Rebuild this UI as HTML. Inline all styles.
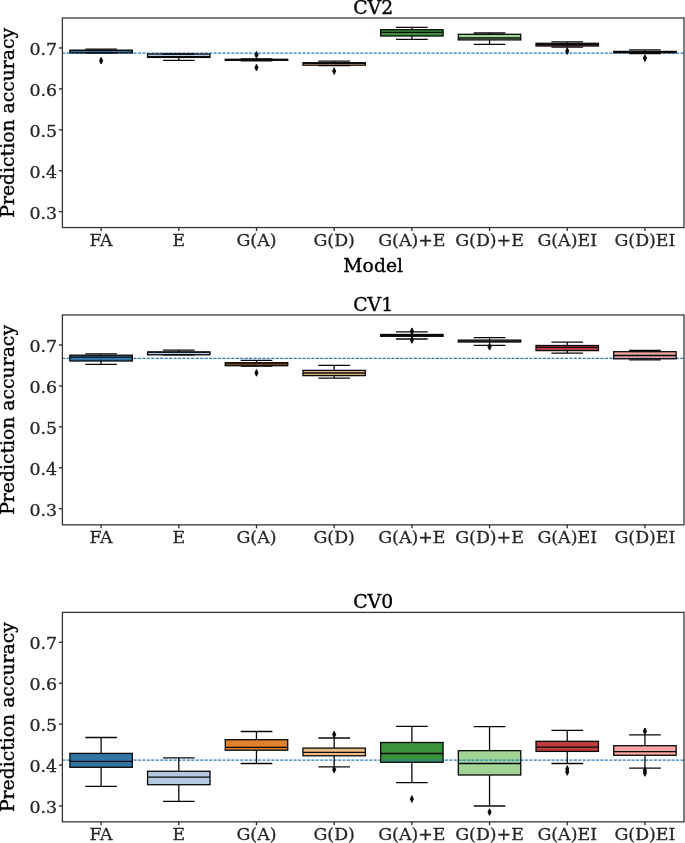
<!DOCTYPE html>
<html lang="en"><head><meta charset="utf-8"><title>Prediction accuracy by model</title>
<style>html,body{margin:0;padding:0;background:#fff}svg{display:block}text{stroke:#262626;stroke-width:.3px}text.k{fill:#000;stroke:#000;stroke-width:.35px}</style></head>
<body>
<svg width="685" height="843" viewBox="0 0 685 843" font-family="'DejaVu Serif', 'Liberation Serif', serif" fill="#262626">
<rect width="685" height="843" fill="#fff"/>
<g class="ax0">
<rect x="69.88" y="50.30" width="62.45" height="2.60" fill="#3274a1"/>
<rect x="147.56" y="54.00" width="62.45" height="3.40" fill="#b5c8e1"/>
<rect x="225.26" y="59.30" width="62.45" height="1.00" fill="#e1812c"/>
<rect x="302.94" y="62.70" width="62.45" height="2.50" fill="#eebb89"/>
<rect x="380.63" y="29.70" width="62.45" height="6.30" fill="#3a923a"/>
<rect x="458.32" y="34.30" width="62.45" height="5.60" fill="#9fd495"/>
<rect x="536.01" y="43.30" width="62.45" height="2.70" fill="#c03d3e"/>
<rect x="613.70" y="51.40" width="62.45" height="1.30" fill="#f2a5a3"/>
<path d="M62.3 53.05H684.0" stroke="#2a7fc0" stroke-width="1.2" stroke-dasharray="3.15 1.297" fill="none"/>
<g stroke="#0a0a0a" stroke-width="1.3" fill="none">
<path d="M101.10 50.30V49.20M101.10 52.90V52.90M85.25 49.20H116.95M85.25 52.90H116.95"/>
<rect x="69.88" y="50.30" width="62.45" height="2.60"/>
<path d="M69.88 50.30H132.32"/>
</g>
<path d="M101.10 57.40L102.65 60.70L101.10 64.00L99.55 60.70Z" fill="#0a0a0a" stroke="#0a0a0a" stroke-width="1" stroke-linejoin="miter"/>
<g stroke="#0a0a0a" stroke-width="1.3" fill="none">
<path d="M178.79 54.00V54.00M178.79 57.40V60.30M162.94 54.00H194.64M162.94 60.30H194.64"/>
<rect x="147.56" y="54.00" width="62.45" height="3.40"/>
<path d="M147.56 56.60H210.01"/>
</g>
<g stroke="#0a0a0a" stroke-width="1.3" fill="none">
<path d="M256.48 59.30V58.90M256.48 60.30V60.80M240.63 58.90H272.33M240.63 60.80H272.33"/>
<rect x="225.26" y="59.30" width="62.45" height="1.00"/>
<path d="M225.26 59.80H287.71"/>
</g>
<path d="M256.48 51.50L258.03 54.80L256.48 58.10L254.93 54.80Z" fill="#0a0a0a" stroke="#0a0a0a" stroke-width="1" stroke-linejoin="miter"/>
<path d="M256.48 64.30L258.03 67.60L256.48 70.90L254.93 67.60Z" fill="#0a0a0a" stroke="#0a0a0a" stroke-width="1" stroke-linejoin="miter"/>
<g stroke="#0a0a0a" stroke-width="1.3" fill="none">
<path d="M334.17 62.70V61.20M334.17 65.20V65.60M318.32 61.20H350.02M318.32 65.60H350.02"/>
<rect x="302.94" y="62.70" width="62.45" height="2.50"/>
<path d="M302.94 63.30H365.39"/>
</g>
<path d="M334.17 67.80L335.72 71.10L334.17 74.40L332.62 71.10Z" fill="#0a0a0a" stroke="#0a0a0a" stroke-width="1" stroke-linejoin="miter"/>
<g stroke="#0a0a0a" stroke-width="1.3" fill="none">
<path d="M411.86 29.70V27.40M411.86 36.00V39.40M396.01 27.40H427.71M396.01 39.40H427.71"/>
<rect x="380.63" y="29.70" width="62.45" height="6.30"/>
<path d="M380.63 32.40H443.09"/>
</g>
<g stroke="#0a0a0a" stroke-width="1.3" fill="none">
<path d="M489.55 34.30V33.00M489.55 39.90V44.30M473.70 33.00H505.40M473.70 44.30H505.40"/>
<rect x="458.32" y="34.30" width="62.45" height="5.60"/>
<path d="M458.32 38.00H520.77"/>
</g>
<g stroke="#0a0a0a" stroke-width="1.3" fill="none">
<path d="M567.24 43.30V41.90M567.24 46.00V47.20M551.39 41.90H583.09M551.39 47.20H583.09"/>
<rect x="536.01" y="43.30" width="62.45" height="2.70"/>
<path d="M536.01 44.60H598.47"/>
</g>
<path d="M567.24 47.80L568.79 51.10L567.24 54.40L565.69 51.10Z" fill="#0a0a0a" stroke="#0a0a0a" stroke-width="1" stroke-linejoin="miter"/>
<g stroke="#0a0a0a" stroke-width="1.3" fill="none">
<path d="M644.93 51.40V49.80M644.93 52.70V53.60M629.08 49.80H660.78M629.08 53.60H660.78"/>
<rect x="613.70" y="51.40" width="62.45" height="1.30"/>
<path d="M613.70 52.00H676.15"/>
</g>
<path d="M644.93 54.80L646.48 58.10L644.93 61.40L643.38 58.10Z" fill="#0a0a0a" stroke="#0a0a0a" stroke-width="1" stroke-linejoin="miter"/>
<rect x="62.4" y="18.0" width="621.60" height="209.55" fill="none" stroke="#303030" stroke-width="1.25"/>
<path d="M62.4 47.97h-3.5" stroke="#2a2a2a" stroke-width="1.3"/>
<text transform="translate(57.10 55.17) scale(1 1.0)" font-size="17.4" text-anchor="end">0.7</text>
<path d="M62.4 88.90h-3.5" stroke="#2a2a2a" stroke-width="1.3"/>
<text transform="translate(57.10 96.10) scale(1 1.0)" font-size="17.4" text-anchor="end">0.6</text>
<path d="M62.4 129.83h-3.5" stroke="#2a2a2a" stroke-width="1.3"/>
<text transform="translate(57.10 137.03) scale(1 1.0)" font-size="17.4" text-anchor="end">0.5</text>
<path d="M62.4 170.76h-3.5" stroke="#2a2a2a" stroke-width="1.3"/>
<text transform="translate(57.10 177.96) scale(1 1.0)" font-size="17.4" text-anchor="end">0.4</text>
<path d="M62.4 211.69h-3.5" stroke="#2a2a2a" stroke-width="1.3"/>
<text transform="translate(57.10 218.89) scale(1 1.0)" font-size="17.4" text-anchor="end">0.3</text>
<path d="M101.10 227.55v3.5" stroke="#2a2a2a" stroke-width="1.3"/>
<text transform="translate(101.10 246.10) scale(1 0.96)" font-size="17.4" text-anchor="middle">FA</text>
<path d="M178.79 227.55v3.5" stroke="#2a2a2a" stroke-width="1.3"/>
<text transform="translate(178.79 246.10) scale(1 0.96)" font-size="17.4" text-anchor="middle">E</text>
<path d="M256.48 227.55v3.5" stroke="#2a2a2a" stroke-width="1.3"/>
<text transform="translate(256.48 246.10) scale(1 0.96)" font-size="17.4" text-anchor="middle">G(A)</text>
<path d="M334.17 227.55v3.5" stroke="#2a2a2a" stroke-width="1.3"/>
<text transform="translate(334.17 246.10) scale(1 0.96)" font-size="17.4" text-anchor="middle">G(D)</text>
<path d="M411.86 227.55v3.5" stroke="#2a2a2a" stroke-width="1.3"/>
<text transform="translate(411.86 246.10) scale(1 0.96)" font-size="17.4" text-anchor="middle">G(A)+E</text>
<path d="M489.55 227.55v3.5" stroke="#2a2a2a" stroke-width="1.3"/>
<text transform="translate(489.55 246.10) scale(1 0.96)" font-size="17.4" text-anchor="middle">G(D)+E</text>
<path d="M567.24 227.55v3.5" stroke="#2a2a2a" stroke-width="1.3"/>
<text transform="translate(567.24 246.10) scale(1 0.96)" font-size="17.4" text-anchor="middle">G(A)EI</text>
<path d="M644.93 227.55v3.5" stroke="#2a2a2a" stroke-width="1.3"/>
<text transform="translate(644.93 246.10) scale(1 0.96)" font-size="17.4" text-anchor="middle">G(D)EI</text>
<text class="k" x="373.20" y="13.90" font-size="18.8" text-anchor="middle">CV2</text>
<text class="k" transform="translate(14.3 122.78) rotate(-90) scale(1 1.01)" font-size="18.8" text-anchor="middle">Prediction accuracy</text>
<text class="k" transform="translate(373.20 272.3) scale(1 1.035)" font-size="18.8" text-anchor="middle">Model</text>
</g>
<g class="ax1">
<rect x="69.88" y="355.20" width="62.45" height="5.80" fill="#3274a1"/>
<rect x="147.56" y="352.00" width="62.45" height="2.80" fill="#b5c8e1"/>
<rect x="225.26" y="362.70" width="62.45" height="3.00" fill="#e1812c"/>
<rect x="302.94" y="370.40" width="62.45" height="5.20" fill="#eebb89"/>
<rect x="380.63" y="334.50" width="62.45" height="1.80" fill="#3a923a"/>
<rect x="458.32" y="340.10" width="62.45" height="1.90" fill="#9fd495"/>
<rect x="536.01" y="345.50" width="62.45" height="5.10" fill="#c03d3e"/>
<rect x="613.70" y="351.70" width="62.45" height="7.10" fill="#f2a5a3"/>
<path d="M62.3 358.3H684.0" stroke="#2a7fc0" stroke-width="1.2" stroke-dasharray="3.15 1.297" fill="none"/>
<g stroke="#0a0a0a" stroke-width="1.3" fill="none">
<path d="M101.10 355.20V353.80M101.10 361.00V364.30M85.25 353.80H116.95M85.25 364.30H116.95"/>
<rect x="69.88" y="355.20" width="62.45" height="5.80"/>
<path d="M69.88 357.20H132.32"/>
</g>
<g stroke="#0a0a0a" stroke-width="1.3" fill="none">
<path d="M178.79 352.00V350.10M178.79 354.80V354.90M162.94 350.10H194.64M162.94 354.90H194.64"/>
<rect x="147.56" y="352.00" width="62.45" height="2.80"/>
<path d="M147.56 352.10H210.01"/>
</g>
<g stroke="#0a0a0a" stroke-width="1.3" fill="none">
<path d="M256.48 362.70V360.40M256.48 365.70V366.20M240.63 360.40H272.33M240.63 366.20H272.33"/>
<rect x="225.26" y="362.70" width="62.45" height="3.00"/>
<path d="M225.26 363.95H287.71"/>
</g>
<path d="M256.48 369.60L258.03 372.90L256.48 376.20L254.93 372.90Z" fill="#0a0a0a" stroke="#0a0a0a" stroke-width="1" stroke-linejoin="miter"/>
<g stroke="#0a0a0a" stroke-width="1.3" fill="none">
<path d="M334.17 370.40V365.30M334.17 375.60V378.10M318.32 365.30H350.02M318.32 378.10H350.02"/>
<rect x="302.94" y="370.40" width="62.45" height="5.20"/>
<path d="M302.94 373.00H365.39"/>
</g>
<g stroke="#0a0a0a" stroke-width="1.3" fill="none">
<path d="M411.86 334.50V331.90M411.86 336.30V339.00M396.01 331.90H427.71M396.01 339.00H427.71"/>
<rect x="380.63" y="334.50" width="62.45" height="1.80"/>
<path d="M380.63 335.40H443.09"/>
</g>
<path d="M411.86 327.90L413.41 331.20L411.86 334.50L410.31 331.20Z" fill="#0a0a0a" stroke="#0a0a0a" stroke-width="1" stroke-linejoin="miter"/>
<path d="M411.86 336.70L413.41 340.00L411.86 343.30L410.31 340.00Z" fill="#0a0a0a" stroke="#0a0a0a" stroke-width="1" stroke-linejoin="miter"/>
<g stroke="#0a0a0a" stroke-width="1.3" fill="none">
<path d="M489.55 340.10V337.60M489.55 342.00V345.30M473.70 337.60H505.40M473.70 345.30H505.40"/>
<rect x="458.32" y="340.10" width="62.45" height="1.90"/>
<path d="M458.32 341.05H520.77"/>
</g>
<path d="M489.55 343.50L491.10 346.80L489.55 350.10L488.00 346.80Z" fill="#0a0a0a" stroke="#0a0a0a" stroke-width="1" stroke-linejoin="miter"/>
<g stroke="#0a0a0a" stroke-width="1.3" fill="none">
<path d="M567.24 345.50V342.20M567.24 350.60V353.20M551.39 342.20H583.09M551.39 353.20H583.09"/>
<rect x="536.01" y="345.50" width="62.45" height="5.10"/>
<path d="M536.01 347.40H598.47"/>
</g>
<g stroke="#0a0a0a" stroke-width="1.3" fill="none">
<path d="M644.93 351.70V350.50M644.93 358.80V359.80M629.08 350.50H660.78M629.08 359.80H660.78"/>
<rect x="613.70" y="351.70" width="62.45" height="7.10"/>
<path d="M613.70 355.50H676.15"/>
</g>
<rect x="62.4" y="315.0" width="621.60" height="209.85" fill="none" stroke="#303030" stroke-width="1.25"/>
<path d="M62.4 344.97h-3.5" stroke="#2a2a2a" stroke-width="1.3"/>
<text transform="translate(57.10 352.17) scale(1 1.0)" font-size="17.4" text-anchor="end">0.7</text>
<path d="M62.4 385.90h-3.5" stroke="#2a2a2a" stroke-width="1.3"/>
<text transform="translate(57.10 393.10) scale(1 1.0)" font-size="17.4" text-anchor="end">0.6</text>
<path d="M62.4 426.83h-3.5" stroke="#2a2a2a" stroke-width="1.3"/>
<text transform="translate(57.10 434.03) scale(1 1.0)" font-size="17.4" text-anchor="end">0.5</text>
<path d="M62.4 467.76h-3.5" stroke="#2a2a2a" stroke-width="1.3"/>
<text transform="translate(57.10 474.96) scale(1 1.0)" font-size="17.4" text-anchor="end">0.4</text>
<path d="M62.4 508.69h-3.5" stroke="#2a2a2a" stroke-width="1.3"/>
<text transform="translate(57.10 515.89) scale(1 1.0)" font-size="17.4" text-anchor="end">0.3</text>
<path d="M101.10 524.85v3.5" stroke="#2a2a2a" stroke-width="1.3"/>
<text transform="translate(101.10 543.25) scale(1 0.96)" font-size="17.4" text-anchor="middle">FA</text>
<path d="M178.79 524.85v3.5" stroke="#2a2a2a" stroke-width="1.3"/>
<text transform="translate(178.79 543.25) scale(1 0.96)" font-size="17.4" text-anchor="middle">E</text>
<path d="M256.48 524.85v3.5" stroke="#2a2a2a" stroke-width="1.3"/>
<text transform="translate(256.48 543.25) scale(1 0.96)" font-size="17.4" text-anchor="middle">G(A)</text>
<path d="M334.17 524.85v3.5" stroke="#2a2a2a" stroke-width="1.3"/>
<text transform="translate(334.17 543.25) scale(1 0.96)" font-size="17.4" text-anchor="middle">G(D)</text>
<path d="M411.86 524.85v3.5" stroke="#2a2a2a" stroke-width="1.3"/>
<text transform="translate(411.86 543.25) scale(1 0.96)" font-size="17.4" text-anchor="middle">G(A)+E</text>
<path d="M489.55 524.85v3.5" stroke="#2a2a2a" stroke-width="1.3"/>
<text transform="translate(489.55 543.25) scale(1 0.96)" font-size="17.4" text-anchor="middle">G(D)+E</text>
<path d="M567.24 524.85v3.5" stroke="#2a2a2a" stroke-width="1.3"/>
<text transform="translate(567.24 543.25) scale(1 0.96)" font-size="17.4" text-anchor="middle">G(A)EI</text>
<path d="M644.93 524.85v3.5" stroke="#2a2a2a" stroke-width="1.3"/>
<text transform="translate(644.93 543.25) scale(1 0.96)" font-size="17.4" text-anchor="middle">G(D)EI</text>
<text class="k" x="373.20" y="310.90" font-size="18.8" text-anchor="middle">CV1</text>
<text class="k" transform="translate(14.3 419.93) rotate(-90) scale(1 1.01)" font-size="18.8" text-anchor="middle">Prediction accuracy</text>
</g>
<g class="ax2">
<rect x="69.88" y="753.40" width="62.45" height="13.90" fill="#3274a1"/>
<rect x="147.56" y="771.30" width="62.45" height="13.40" fill="#b5c8e1"/>
<rect x="225.26" y="739.70" width="62.45" height="10.50" fill="#e1812c"/>
<rect x="302.94" y="748.10" width="62.45" height="7.70" fill="#eebb89"/>
<rect x="380.63" y="742.50" width="62.45" height="19.80" fill="#3a923a"/>
<rect x="458.32" y="750.70" width="62.45" height="24.30" fill="#9fd495"/>
<rect x="536.01" y="741.30" width="62.45" height="10.10" fill="#c03d3e"/>
<rect x="613.70" y="745.70" width="62.45" height="9.60" fill="#f2a5a3"/>
<path d="M62.3 760.05H684.0" stroke="#2a7fc0" stroke-width="1.2" stroke-dasharray="3.15 1.297" fill="none"/>
<g stroke="#0a0a0a" stroke-width="1.3" fill="none">
<path d="M101.10 753.40V737.50M101.10 767.30V786.40M85.25 737.50H116.95M85.25 786.40H116.95"/>
<rect x="69.88" y="753.40" width="62.45" height="13.90"/>
<path d="M69.88 761.40H132.32"/>
</g>
<g stroke="#0a0a0a" stroke-width="1.3" fill="none">
<path d="M178.79 771.30V757.90M178.79 784.70V801.30M162.94 757.90H194.64M162.94 801.30H194.64"/>
<rect x="147.56" y="771.30" width="62.45" height="13.40"/>
<path d="M147.56 777.20H210.01"/>
</g>
<g stroke="#0a0a0a" stroke-width="1.3" fill="none">
<path d="M256.48 739.70V731.50M256.48 750.20V763.50M240.63 731.50H272.33M240.63 763.50H272.33"/>
<rect x="225.26" y="739.70" width="62.45" height="10.50"/>
<path d="M225.26 747.40H287.71"/>
</g>
<g stroke="#0a0a0a" stroke-width="1.3" fill="none">
<path d="M334.17 748.10V738.00M334.17 755.80V766.80M318.32 738.00H350.02M318.32 766.80H350.02"/>
<rect x="302.94" y="748.10" width="62.45" height="7.70"/>
<path d="M302.94 752.30H365.39"/>
</g>
<path d="M334.17 731.20L335.72 734.50L334.17 737.80L332.62 734.50Z" fill="#0a0a0a" stroke="#0a0a0a" stroke-width="1" stroke-linejoin="miter"/>
<path d="M334.17 766.30L335.72 769.60L334.17 772.90L332.62 769.60Z" fill="#0a0a0a" stroke="#0a0a0a" stroke-width="1" stroke-linejoin="miter"/>
<g stroke="#0a0a0a" stroke-width="1.3" fill="none">
<path d="M411.86 742.50V726.40M411.86 762.30V782.70M396.01 726.40H427.71M396.01 782.70H427.71"/>
<rect x="380.63" y="742.50" width="62.45" height="19.80"/>
<path d="M380.63 753.50H443.09"/>
</g>
<path d="M411.86 795.70L413.41 799.00L411.86 802.30L410.31 799.00Z" fill="#0a0a0a" stroke="#0a0a0a" stroke-width="1" stroke-linejoin="miter"/>
<g stroke="#0a0a0a" stroke-width="1.3" fill="none">
<path d="M489.55 750.70V726.60M489.55 775.00V806.00M473.70 726.60H505.40M473.70 806.00H505.40"/>
<rect x="458.32" y="750.70" width="62.45" height="24.30"/>
<path d="M458.32 763.50H520.77"/>
</g>
<path d="M489.55 808.80L491.10 812.10L489.55 815.40L488.00 812.10Z" fill="#0a0a0a" stroke="#0a0a0a" stroke-width="1" stroke-linejoin="miter"/>
<g stroke="#0a0a0a" stroke-width="1.3" fill="none">
<path d="M567.24 741.30V730.30M567.24 751.40V763.50M551.39 730.30H583.09M551.39 763.50H583.09"/>
<rect x="536.01" y="741.30" width="62.45" height="10.10"/>
<path d="M536.01 747.10H598.47"/>
</g>
<path d="M567.24 765.70L568.79 769.00L567.24 772.30L565.69 769.00Z" fill="#0a0a0a" stroke="#0a0a0a" stroke-width="1" stroke-linejoin="miter"/>
<path d="M567.24 768.70L568.79 772.00L567.24 775.30L565.69 772.00Z" fill="#0a0a0a" stroke="#0a0a0a" stroke-width="1" stroke-linejoin="miter"/>
<g stroke="#0a0a0a" stroke-width="1.3" fill="none">
<path d="M644.93 745.70V734.80M644.93 755.30V768.20M629.08 734.80H660.78M629.08 768.20H660.78"/>
<rect x="613.70" y="745.70" width="62.45" height="9.60"/>
<path d="M613.70 751.60H676.15"/>
</g>
<path d="M644.93 728.00L646.48 731.30L644.93 734.60L643.38 731.30Z" fill="#0a0a0a" stroke="#0a0a0a" stroke-width="1" stroke-linejoin="miter"/>
<path d="M644.93 767.20L646.48 770.50L644.93 773.80L643.38 770.50Z" fill="#0a0a0a" stroke="#0a0a0a" stroke-width="1" stroke-linejoin="miter"/>
<path d="M644.93 769.70L646.48 773.00L644.93 776.30L643.38 773.00Z" fill="#0a0a0a" stroke="#0a0a0a" stroke-width="1" stroke-linejoin="miter"/>
<rect x="62.4" y="612.4" width="621.60" height="209.45" fill="none" stroke="#303030" stroke-width="1.25"/>
<path d="M62.4 642.27h-3.5" stroke="#2a2a2a" stroke-width="1.3"/>
<text transform="translate(57.10 649.47) scale(1 1.0)" font-size="17.4" text-anchor="end">0.7</text>
<path d="M62.4 683.20h-3.5" stroke="#2a2a2a" stroke-width="1.3"/>
<text transform="translate(57.10 690.40) scale(1 1.0)" font-size="17.4" text-anchor="end">0.6</text>
<path d="M62.4 724.13h-3.5" stroke="#2a2a2a" stroke-width="1.3"/>
<text transform="translate(57.10 731.33) scale(1 1.0)" font-size="17.4" text-anchor="end">0.5</text>
<path d="M62.4 765.06h-3.5" stroke="#2a2a2a" stroke-width="1.3"/>
<text transform="translate(57.10 772.26) scale(1 1.0)" font-size="17.4" text-anchor="end">0.4</text>
<path d="M62.4 805.99h-3.5" stroke="#2a2a2a" stroke-width="1.3"/>
<text transform="translate(57.10 813.19) scale(1 1.0)" font-size="17.4" text-anchor="end">0.3</text>
<path d="M101.10 821.85v3.5" stroke="#2a2a2a" stroke-width="1.3"/>
<text transform="translate(101.10 840.25) scale(1 0.96)" font-size="17.4" text-anchor="middle">FA</text>
<path d="M178.79 821.85v3.5" stroke="#2a2a2a" stroke-width="1.3"/>
<text transform="translate(178.79 840.25) scale(1 0.96)" font-size="17.4" text-anchor="middle">E</text>
<path d="M256.48 821.85v3.5" stroke="#2a2a2a" stroke-width="1.3"/>
<text transform="translate(256.48 840.25) scale(1 0.96)" font-size="17.4" text-anchor="middle">G(A)</text>
<path d="M334.17 821.85v3.5" stroke="#2a2a2a" stroke-width="1.3"/>
<text transform="translate(334.17 840.25) scale(1 0.96)" font-size="17.4" text-anchor="middle">G(D)</text>
<path d="M411.86 821.85v3.5" stroke="#2a2a2a" stroke-width="1.3"/>
<text transform="translate(411.86 840.25) scale(1 0.96)" font-size="17.4" text-anchor="middle">G(A)+E</text>
<path d="M489.55 821.85v3.5" stroke="#2a2a2a" stroke-width="1.3"/>
<text transform="translate(489.55 840.25) scale(1 0.96)" font-size="17.4" text-anchor="middle">G(D)+E</text>
<path d="M567.24 821.85v3.5" stroke="#2a2a2a" stroke-width="1.3"/>
<text transform="translate(567.24 840.25) scale(1 0.96)" font-size="17.4" text-anchor="middle">G(A)EI</text>
<path d="M644.93 821.85v3.5" stroke="#2a2a2a" stroke-width="1.3"/>
<text transform="translate(644.93 840.25) scale(1 0.96)" font-size="17.4" text-anchor="middle">G(D)EI</text>
<text class="k" x="373.20" y="608.30" font-size="18.8" text-anchor="middle">CV0</text>
<text class="k" transform="translate(14.3 717.12) rotate(-90) scale(1 1.01)" font-size="18.8" text-anchor="middle">Prediction accuracy</text>
</g>
</svg>
</body></html>
